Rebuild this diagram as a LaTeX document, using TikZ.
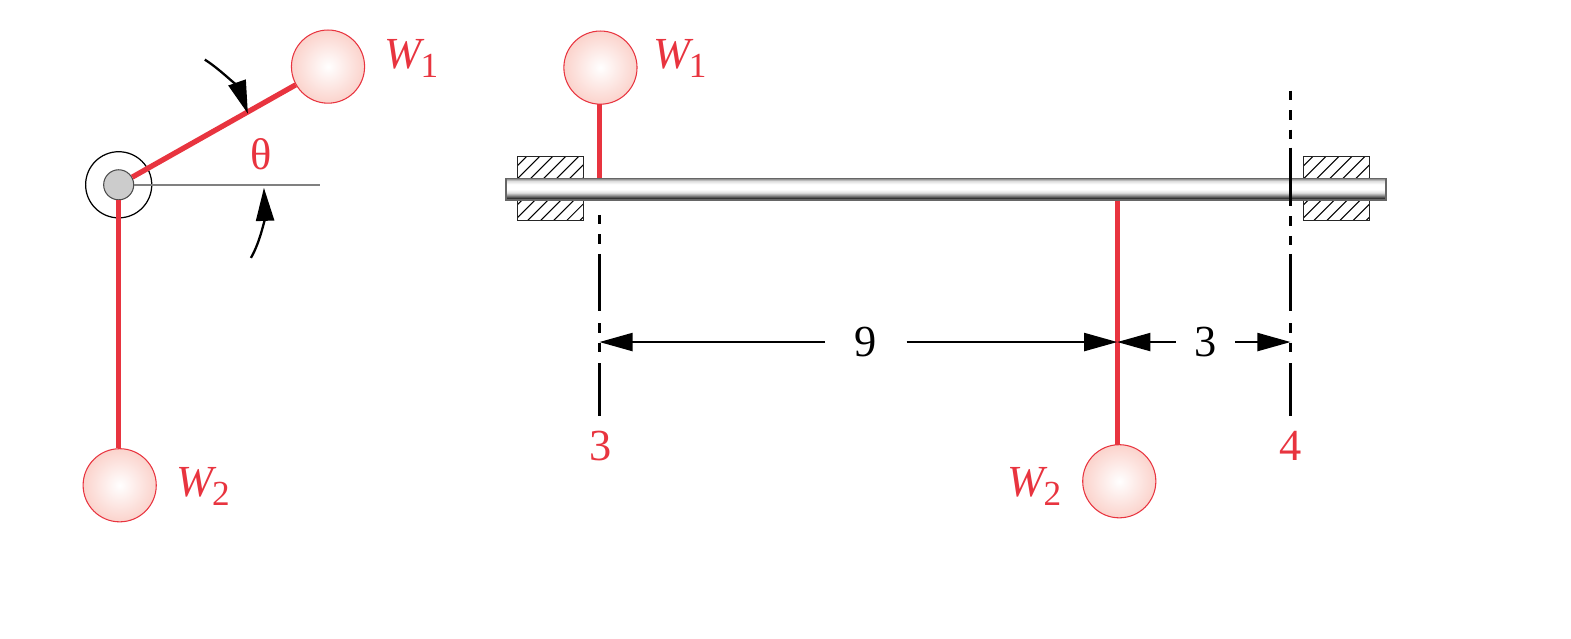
\documentclass[tikz,border=0pt]{standalone}
\usepackage{fontspec}
\setmainfont{Liberation Serif}
\usetikzlibrary{arrows.meta}
\definecolor{wred}{HTML}{E8343F}
\definecolor{wpink}{HTML}{FBD3CC}
\pgfdeclareverticalshading{shaftshade}{100bp}{
  color(0bp)=(black!92);
  color(25bp)=(black!92);
  color(29bp)=(black!82);
  color(35bp)=(black!48);
  color(42bp)=(black!12);
  color(50bp)=(white);
  color(62bp)=(white);
  color(70bp)=(black!14);
  color(75bp)=(black!45);
  color(100bp)=(black!45)
}
\newcommand{\wlabel}[1]{\textit{W}\kern-1.3pt\raisebox{-2.6pt}{\fontsize{10}{12}\selectfont #1}}

\begin{document}
\begin{tikzpicture}[
  x=.01cm,
  y=-.01cm,
  ball/.style={
    circle,
    draw=wred,
    line width=.3pt,
    inner color=white,
    outer color=wpink,
    minimum size=.73cm,
    inner sep=0pt
  },
  redbar/.style={
    wred,
    line width=1.5pt
  },
  redtext/.style={
    wred,
    font=\fontsize{12.6}{14}\selectfont,
    inner sep=0pt
  },
  dimtext/.style={
    font=\fontsize{12.6}{14}\selectfont
  },
  dimline/.style={
    black,
    line width=.55pt,
    -{Triangle[length=.33cm,width=.18cm]}
  },
  centerdash/.style={
    black,
    line width=.7pt,
    dash pattern=on 2.7pt off 2.85pt
  },
  centersolid/.style={
    black,
    line width=.7pt
  },
  housing/.style={
    draw,
    black!85,
    line width=.35pt
  },
]
\useasboundingbox (-.5,-.5) rectangle (1568,636.5);

\node[circle,draw,line width=.35pt,minimum size=.66cm,inner sep=0pt] (ring) at (118,184) {};
\node[circle,draw=black!70,line width=.3pt,fill=black!20,minimum size=.3cm,inner sep=0pt] (hub) at (118,184) {};
\node[ball] (wonea) at (327,66) {};
\node[ball] (wtwoa) at (119,484) {};
\coordinate (refend) at (319,184);
\draw[black!50,line width=.45pt] (hub.east) -- (refend);
\draw[redbar] (hub) -- (wonea);
\draw[redbar] (hub.south) -- (hub.south |- wtwoa.north);
\coordinate (thetaa) at (204,59);
\coordinate (thetab) at (247,113);
\coordinate (thetac) at (250,257);
\coordinate (thetad) at (263,187);
\draw[dimline,line width=.65pt] (thetaa) .. controls (224,72) and (239,90) .. (thetab);
\draw[dimline,line width=.65pt] (thetac) .. controls (260,240) and (264,215) .. (thetad);
\node[redtext,anchor=base west] (wonealabel) at (383,68) {\wlabel{1}};
\node[redtext,anchor=base west] (wtwoalabel) at (175,495) {\wlabel{2}};
\node[redtext,anchor=base] (thetalabel) at (260,169) {θ};

\foreach \bx in {516,1301} {
  \begin{scope}
    \clip (\bx,156) rectangle (\bx+66,220);
    \foreach \hx in {-72,-59,...,72} {
      \draw[line width=.3pt] (\bx+\hx,224) -- (\bx+\hx+68,156);
    }
  \end{scope}
  \draw[housing] (\bx,156) rectangle (\bx+66,220);
}
\node[draw=black!60,line width=.4pt,shading=shaftshade,minimum width=8.78cm,minimum height=.21cm,inner sep=0pt] (shaft) at (944,188.5) {};

\node[ball] (woneb) at (599,67) {};
\node[ball] (wtwob) at (1117,480) {};
\coordinate (armone) at (598,103);
\coordinate (armtwo) at (1115,444);
\draw[redbar] (armone) -- (armone |- shaft.north);
\draw[redbar] (armtwo |- shaft.south) -- (armtwo);
\node[redtext,anchor=base west] (woneblabel) at (651,68) {\wlabel{1}};
\node[redtext,anchor=base west] (wtwoblabel) at (1005,495) {\wlabel{2}};

\draw[centerdash] (598,214) -- (598,244);
\draw[centerdash] (1288,90) -- (1288,145);
\draw[centersolid] (1288,147) -- (1288,199);
\draw[centerdash] (1288,196) -- (1288,244);
\foreach \cx in {598,1288} {
  \draw[centersolid] (\cx,253) -- (\cx,310);
  \draw[centerdash] (\cx,322) -- (\cx,353);
  \draw[centersolid] (\cx,362) -- (\cx,415);
}
\node[redtext,anchor=base] (planethree) at (599,459) {3};
\node[redtext,anchor=base] (planefour) at (1288,459) {4};

\coordinate (dimleft) at (598,341);
\coordinate (dimmid) at (1115,341);
\coordinate (dimright) at (1288,341);
\node[dimtext,inner xsep=.29cm,inner ysep=0pt] (nine) at (864,341) {9};
\node[dimtext,inner xsep=.18cm,inner ysep=0pt] (three) at (1203,341) {3};
\draw[dimline] (nine) -- (dimleft);
\draw[dimline] (nine) -- (dimmid);
\draw[dimline] (three) -- (dimmid);
\draw[dimline] (three) -- (dimright);
\end{tikzpicture}
\end{document}
